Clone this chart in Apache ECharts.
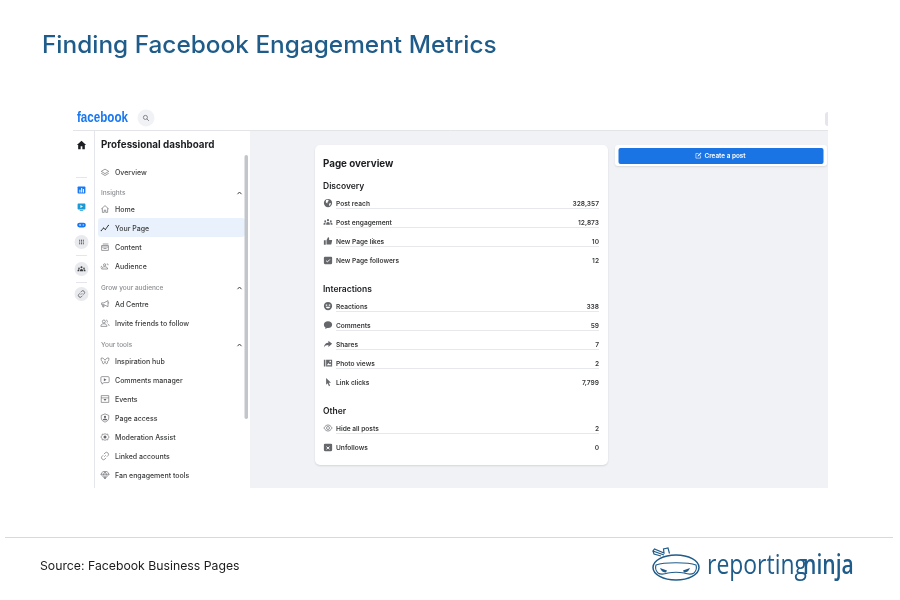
<!DOCTYPE html>
<html>
<head>
<meta charset="utf-8">
<style>html,body{margin:0;padding:0;background:#fff}#main{width:900px;height:600px}</style>
<script src="https://cdn.jsdelivr.net/npm/echarts@6/dist/echarts.min.js"></script>
</head>
<body>
<div id="main"></div>
<script>
// page overview figures
const discoveryNames = ['Post reach', 'Post engagement', 'New Page likes', 'New Page followers'];
const discoveryValues = [328357, 12873, 10, 12];
const discoveryIcons = ['globe', 'crowd', 'thumb', 'follow'];
const interactionNames = ['Reactions', 'Comments', 'Shares', 'Photo views', 'Link clicks'];
const interactionValues = [338, 59, 7, 2, 7799];
const interactionIcons = ['face', 'bubble', 'share', 'photo', 'cursor'];
const otherNames = ['Hide all posts', 'Unfollows'];
const otherValues = [2, 0];
const otherIcons = ['eye', 'unfollow'];

// left menu
const menuTop = ['Overview'];
const menuInsights = ['Home', 'Your Page', 'Content', 'Audience'];
const menuGrow = ['Ad Centre', 'Invite friends to follow'];
const menuTools = ['Inspiration hub', 'Comments manager', 'Events', 'Page access', 'Moderation Assist', 'Linked accounts', 'Fan engagement tools'];

const FONT = 'Inter';
const DARK = '#1c1e21';
const GREY = '#65676b';
const NAVY = '#1f5c8a';

// icons are drawn on a 24 box, each layer is [path, mode], mode f=fill w=white l=line
const ICONS = {
  globe: [['M12 1a11 11 0 1 0 0 22a11 11 0 1 0 0-22z', 'f'], ['M7 4l5-1 2 3-3 3-1 4-4-3zM15 13l5-1-2 6-3 2z', 'w']],
  crowd: [['M9 7a3 3 0 1 0 6 0a3 3 0 1 0-6 0zM7 19c0-5 2-7 5-7s5 2 5 7zM2 10a2.5 2.5 0 1 0 5 0a2.5 2.5 0 1 0-5 0zM0 19c0-4 1-6 4.500-6 1 0 1 0 1.500 .5-1 1.500-1 3-1 5.500zM17 10a2.500 2.500 0 1 0 5 0a2.500 2.500 0 1 0-5 0zM24 19c0-4-1-6-4.500-6-1 0-1 0-1.500 .5 1 1.500 1 3 1 5.500z', 'f']],
  thumb: [['M1 10h5v12H1zM8 10l4-8c2 0 3 1 3 3v4h6c1.500 0 2.500 1 2 2.500l-2 8.500c-.3 1-1 1.500-2 1.500H8z', 'f']],
  follow: [['M4 3h16a3 3 0 0 1 3 3v14a3 3 0 0 1-3 3H4a3 3 0 0 1-3-3V6a3 3 0 0 1 3-3z', 'f'], ['M7 14l3.500 3 6.500-6.500', 'wl']],
  face: [['M12 1a11 11 0 1 0 0 22a11 11 0 1 0 0-22z', 'f'], ['M6 8h4v3H6zM14 8h4v3h-4zM6 14h12c-1 3-3 4.500-6 4.500S7 17 6 14z', 'w']],
  bubble: [['M12 2C5.500 2 1 6 1 11c0 3 1.500 5.500 4 7v4.500l4.500-2.700c.8 .2 1.700 .2 2.500 .2 6.500 0 11-4 11-9S18.500 2 12 2z', 'f']],
  share: [['M13 3l10 8.500-10 8.500v-5.500C7 14.500 4 16.500 1 21c1-7.500 5-12.500 12-12.500z', 'f']],
  photo: [['M1 3h4v18H1zM7 3h16v18H7z', 'f'], ['M9 18l4-6 3 3 2-2 3 5zM16 6h4v4h-4z', 'w']],
  cursor: [['M7 1l13 13h-6l3.500 7.500-3 1.500-3.500-7.500-4 4z', 'f']],
  eye: [['M1 12c4-6 7-8 11-8s7 2 11 8c-4 6-7 8-11 8S5 18 1 12zM8 12a4 4 0 1 0 8 0a4 4 0 1 0-8 0z', 'l']],
  unfollow: [['M4 3h16a3 3 0 0 1 3 3v14a3 3 0 0 1-3 3H4a3 3 0 0 1-3-3V6a3 3 0 0 1 3-3z', 'f'], ['M8 11l8 7M16 11l-8 7', 'wl']],
  // outline menu icons
  overview: [['M2 9l10-6 10 6-10 6zM2 14l10 6 10-6', 'l']],
  home: [['M2 12L12 3l10 9M5 10v11h5v-6h4v6h5V10', 'l']],
  trend: [['M2 19l6-7 5 4 8-11M2 19h.1M8 12h.1M13 16h.1M21 5h.1', 'dl']],
  content: [['M3 8h18v13H3zM6 4h15M3 12h18M8 16h8', 'l']],
  audience: [['M8 9a3 3 0 1 0 6 0a3 3 0 1 0-6 0zM3 20c0-4 3-6 8-6s8 2 8 6zM17 6a3 3 0 0 1 3 4M1 16c0-2 1-3 3-4', 'l']],
  megaphone: [['M3 9h6l11-6v16L9 14H3zM6 14v6h3v-6M20 9h3', 'l']],
  invite: [['M5 8a4 4 0 1 0 8 0a4 4 0 1 0-8 0zM1 21c0-5 3-7 8-7s8 2 8 7zM15 4a4 4 0 0 1 2 7M19 14c2 1 4 3 4 6', 'l']],
  butterfly: [['M12 10C9 5 5 3 2 4c-1 4 0 9 4 10-2 3 0 6 3 5 2-1 3-4 3-6 0 2 1 5 3 6 3 1 5-2 3-5 4-1 5-6 4-10-3-1-7 1-10 6z', 'l']],
  chat: [['M4 3h16a3 3 0 0 1 3 3v10a3 3 0 0 1-3 3H9l-5 4v-4a3 3 0 0 1-3-3V6a3 3 0 0 1 3-3z', 'l'], ['M9 7l7 4-7 4z', 'f']],
  events: [['M2 3h20v18H2zM2 9h20', 'l'], ['M8 12h8l-4 5z', 'f']],
  shield: [['M12 1l10 4v7c0 5-4 9-10 11C6 21 2 17 2 12V5z', 'l'], ['M9 9a3 3 0 1 0 6 0a3 3 0 1 0-6 0zM6 18c0-3 2-5 6-5s6 2 6 5z', 'f']],
  gear: [['M12 3l3 2 4-1 1 4 3 4-3 4-1 4-4-1-3 2-3-2-4 1-1-4-3-4 3-4 1-4 4 1z', 'l'], ['M8 12a4 4 0 1 0 8 0a4 4 0 1 0-8 0z', 'f']],
  link: [['M10 14l4-4M9 7l3-3a5 5 0 0 1 8 7l-3 3M15 17l-3 3a5 5 0 0 1-8-7l3-3', 'l']],
  diamond: [['M6 3h12l5 7-11 12L1 10zM1 10h22M8 10l4 12 4-12-4-7z', 'l']],
  // left rail
  house: [['M12 2L1 12h3v10h6v-7h4v7h6V12h3z', 'f']],
  bars: [['M3 2h18a2 2 0 0 1 2 2v16a2 2 0 0 1-2 2H3a2 2 0 0 1-2-2V4a2 2 0 0 1 2-2z', 'f'], ['M6 11h3v8H6zM11 6h3v13h-3zM16 9h3v10h-3z', 'w']],
  screen: [['M3 2h18a2 2 0 0 1 2 2v13a2 2 0 0 1-2 2H3a2 2 0 0 1-2-2V4a2 2 0 0 1 2-2zM7 21h10v2H7z', 'f'], ['M9 6l7 4.500-7 4.500z', 'w']],
  pad: [['M7 6h10a6 6 0 0 1 0 12H7A6 6 0 0 1 7 6z', 'f'], ['M6 12h5M15 12h3', 'wl']],
  dots: [['M5 5h3v3H5zM10.500 5h3v3h-3zM16 5h3v3h-3zM5 10.500h3v3H5zM10.500 10.500h3v3h-3zM16 10.500h3v3h-3zM5 16h3v3H5zM10.500 16h3v3h-3zM16 16h3v3h-3z', 'f']],
  search: [['M3 10a7 7 0 1 0 14 0a7 7 0 1 0-14 0zM15 15l7 7', 'l']],
  pencil: [['M19 12v9H3V5h9', 'l'], ['M9 15l1-4L20 2l2 2-9 10z', 'f']]
};

function icon(name, cx, cy, size, color, lineWidth) {
  const s = size / 24;
  return {
    type: 'group', x: cx - size / 2, y: cy - size / 2, scaleX: s, scaleY: s,
    children: ICONS[name].map(function (layer) {
      const mode = layer[1];
      let style;
      if (mode === 'f') style = { fill: color };
      else if (mode === 'w') style = { fill: '#fff' };
      else if (mode === 'wl') style = { fill: 'none', stroke: '#fff', lineWidth: 2.5 };
      else if (mode === 'dl') style = { fill: 'none', stroke: DARK, lineWidth: 2.2, lineCap: 'round' };
      else style = { fill: 'none', stroke: color, lineWidth: lineWidth || 1.8 };
      return { type: 'path', shape: { pathData: layer[0] }, style: style };
    })
  };
}

function text(str, x, y, size, weight, color, align, family) {
  return {
    type: 'text',
    style: {
      text: str, x: x, y: y, fontSize: size, fontWeight: weight, fontFamily: family || FONT,
      fill: color, align: align || 'left', verticalAlign: 'middle'
    }
  };
}

// the original fonts are not installed, so squeeze or stretch a stand-in to the same width
function wideText(str, x, y, sx, size, weight, color, family) {
  return { type: 'group', x: x, y: y, scaleX: sx, children: [text(str, 0, 0, size, weight, color, 'left', family)] };
}

function rect(x, y, w, h, fill, r, extra) {
  return {
    type: 'rect',
    shape: { x: x, y: y, width: w, height: h, r: r || 0 },
    style: Object.assign({ fill: fill }, extra || {})
  };
}

function hline(x1, x2, y, color) {
  return { type: 'line', shape: { x1: x1, y1: y, x2: x2, y2: y }, style: { stroke: color, lineWidth: 1 } };
}

function menuRows(names, icons, startY) {
  const out = [];
  names.forEach(function (name, i) {
    const y = startY + i * 19;
    out.push(icon(icons[i], 105, y, 9, '#65676b', 1.7));
    out.push(text(name, 115, y + 0.6, 7, 500, '#3a3b3c'));
  });
  return out;
}

function chevron(y) {
  return { type: 'polyline', shape: { points: [[237.5, y + 1.2], [239.5, y - 1], [241.5, y + 1.2]] }, style: { fill: 'none', stroke: '#444', lineWidth: 1 } };
}

// everything around the table: page title, facebook chrome, footer and logo
function renderChrome() {
  let c = [];
  c.push(wideText('Finding Facebook Engagement Metrics', 42, 46, 1.016, 24, 500, NAVY));

  // screenshot frame
  c.push(rect(250, 130, 578, 358, '#f0f2f5'));
  c.push(hline(73, 828, 130.5, '#e2e4e8'));
  c.push(rect(825, 112, 3, 14, '#e4e6eb', [7, 0, 0, 7]));
  c.push(wideText('facebook', 77, 118.5, 0.83, 14, 700, '#1877f2', 'Liberation Sans'));
  c.push({ type: 'circle', shape: { cx: 146, cy: 118, r: 8.5 }, style: { fill: '#f0f2f5' } });
  c.push(icon('search', 146, 118, 7, '#65676b', 2.6));

  // left rail
  c.push({ type: 'line', shape: { x1: 94.5, y1: 131, x2: 94.5, y2: 488 }, style: { stroke: '#e4e6eb', lineWidth: 1 } });
  c.push(icon('house', 81.5, 145, 10, '#1c1e21'));
  c.push(hline(76, 87, 177.5, '#e4e6eb'));
  c.push(icon('bars', 81.5, 190, 8.5, '#1877f2'));
  c.push(icon('screen', 81.5, 207, 8.5, '#1b9ad6'));
  c.push(icon('pad', 81.5, 225, 9.5, '#1877f2'));
  [[242, 'dots'], [269, 'crowd'], [294, 'link']].forEach(function (b) {
    c.push({ type: 'circle', shape: { cx: 81.5, cy: b[0], r: 7 }, style: { fill: '#e8eaee' } });
    c.push(icon(b[1], 81.5, b[0], 8, '#3a3b3c', 2));
  });
  c.push(hline(76, 87, 255.5, '#e4e6eb'));
  c.push(hline(76, 87, 282.5, '#e4e6eb'));

  // menu
  c.push(text('Professional dashboard', 101, 145.5, 9.8, 700, '#1c1e21'));
  c.push(rect(98, 218, 147, 19, '#e9f2fc', 3));
  c.push(rect(244.500, 155, 3.500, 264, '#c2c5ca', 1.7));
  c = c.concat(menuRows(menuTop, ['overview'], 172.5));
  c.push(text('Insights', 101, 193.5, 6.5, 500, '#8a8d91'));
  c.push(chevron(193));
  c = c.concat(menuRows(menuInsights, ['home', 'trend', 'content', 'audience'], 209));
  c.push(text('Grow your audience', 101, 288.5, 6.5, 500, '#8a8d91'));
  c.push(chevron(288));
  c = c.concat(menuRows(menuGrow, ['megaphone', 'invite'], 304));
  c.push(text('Your tools', 101, 345.5, 6.5, 500, '#8a8d91'));
  c.push(chevron(345));
  c = c.concat(menuRows(menuTools, ['butterfly', 'chat', 'events', 'shield', 'gear', 'link', 'diamond'], 361));

  // page overview card
  c.push(rect(315, 145, 293, 320, '#fff', 5, { shadowBlur: 2, shadowColor: 'rgba(0,0,0,.12)', shadowOffsetY: 1 }));
  c.push(text('Page overview', 323, 164.5, 9.8, 700, '#1c1e21'));
  c.push(text('Discovery', 323, 186.5, 8.5, 600, '#1c1e21'));
  c.push(text('Interactions', 323, 289.5, 8.5, 600, '#1c1e21'));
  c.push(text('Other', 323, 411, 8.5, 600, '#1c1e21'));

  // create a post card
  c.push(rect(615, 145, 212, 21, '#fff', 3, { shadowBlur: 2, shadowColor: 'rgba(0,0,0,.1)', shadowOffsetY: 1 }));
  c.push(rect(618.500, 148, 205, 16, '#1b74e4', 2));
  c.push(icon('pencil', 698.5, 155.5, 7, '#fff', 2));
  c.push(text('Create a post', 704.5, 156, 6.4, 600, '#fff'));

  // footer
  c.push(hline(5, 893, 537.5, '#d9d9d9'));
  c.push(text('Source: Facebook Business Pages', 40, 566, 12.25, 400, '#1c1c1c'));

  // logo
  const logo = [
    { type: 'ellipse', shape: { cx: 676, cy: 567.5, rx: 23, ry: 12.5 }, style: { fill: '#fff', stroke: NAVY, lineWidth: 1.5 } },
    { type: 'path', shape: { pathData: 'M656 565c8-3 32-3 40 0 1 3 0 6-2 8-3 2-7 1-10 0-5-1-11-1-16 0-3 1-7 2-10 0-2-2-3-5-2-8z' }, style: { fill: '#fff', stroke: NAVY, lineWidth: 1.1 } },
    { type: 'path', shape: { pathData: 'M660 568l7 2.500-1 2c-2.500 0-5-1.500-6-4.500zM690 568l-7 2.500 1 2c2.500 0 5-1.500 6-4.500z' }, style: { fill: NAVY } },
    { type: 'path', shape: { pathData: 'M664 555l-11-4 1.500-2 9.500 4-.5-4 4.500-1 1.500 5.500M653 551l1 3 7 2' }, style: { fill: 'none', stroke: NAVY, lineWidth: 1.2 } },
    wideText('reporting', 707, 566, 0.85, 27, 400, NAVY, 'Open Sans'),
    wideText('ninja', 803, 566, 0.78, 27, 600, NAVY, 'Open Sans')
  ];
  c.push({ type: 'group', children: logo });
  return { type: 'group', children: c };
}

// a table block: one category row per metric, positioned by its own y axis
function rowSeries(index, names, values, icons) {
  return {
    type: 'custom',
    xAxisIndex: index,
    yAxisIndex: index,
    silent: true,
    z: 5,
    data: values.map(function (v, i) { return [i, v]; }),
    encode: { y: 0 },
    renderItem: function (params, api) {
      const i = api.value(0);
      const left = api.coord([0, i]);
      const right = api.coord([1, i]);
      const children = [
        icon(icons[i], left[0] - 8, left[1], 9, GREY, 1.8),
        text(names[i], left[0], left[1] + 0.7, 6.6, 600, '#3a3b3c'),
        text(api.value(1).toLocaleString('en-US'), right[0], left[1] + 0.7, 6.6, 600, '#3a3b3c', 'right')
      ];
      if (i < names.length - 1) children.push(hline(left[0], right[0], Math.round(left[1] + 5) + 0.5, '#e6e8eb'));
      return { type: 'group', children: children };
    }
  };
}

function blockGrid(top, count) {
  return { left: 336, width: 263, top: top, height: count * 19 };
}
function blockX(i) {
  return { gridIndex: i, type: 'value', min: 0, max: 1, show: false };
}
function blockY(i, names) {
  return { gridIndex: i, type: 'category', inverse: true, data: names.map(function (n, k) { return k; }), show: false };
}

const chart = echarts.init(document.getElementById('main'), null, { renderer: 'canvas' });
chart.setOption({
  animation: false,
  backgroundColor: '#fff',
  grid: [blockGrid(193.5, 4), blockGrid(296.5, 5), blockGrid(418.5, 2)],
  xAxis: [blockX(0), blockX(1), blockX(2)],
  yAxis: [blockY(0, discoveryNames), blockY(1, interactionNames), blockY(2, otherNames)],
  series: [
    { type: 'custom', coordinateSystem: 'none', silent: true, z: 1, data: [0], renderItem: renderChrome },
    rowSeries(0, discoveryNames, discoveryValues, discoveryIcons),
    rowSeries(1, interactionNames, interactionValues, interactionIcons),
    rowSeries(2, otherNames, otherValues, otherIcons)
  ]
});
</script>
</body>
</html>
